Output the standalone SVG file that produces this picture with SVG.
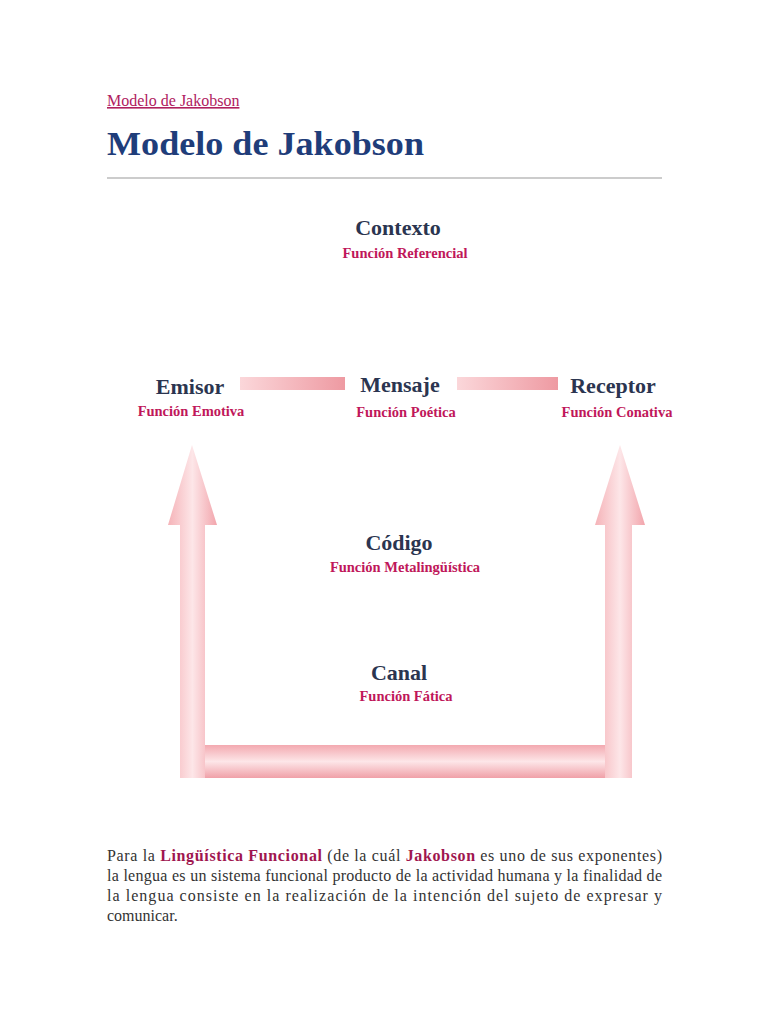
<svg xmlns="http://www.w3.org/2000/svg" width="768" height="1024" viewBox="0 0 768 1024">
<style>
.t{font-family:"Liberation Serif",serif;font-weight:bold;fill:#2b3550;font-size:22px;text-anchor:middle}
.f{font-family:"Liberation Serif",serif;font-weight:bold;fill:#c0175a;font-size:14.5px;text-anchor:middle}
.p{font-family:"Liberation Serif",serif;font-size:16px;fill:#333}
.b{font-weight:bold;fill:#a0164f}
</style>
<defs>
<linearGradient id="gv" x1="0" y1="0" x2="1" y2="0">
<stop offset="0" stop-color="#f5b3b8"/><stop offset="0.5" stop-color="#fde6e8"/><stop offset="1" stop-color="#f2a5ac"/>
</linearGradient>
<linearGradient id="gh" x1="0" y1="0" x2="0" y2="1">
<stop offset="0" stop-color="#f3a9b0"/><stop offset="0.5" stop-color="#fde6e8"/><stop offset="1" stop-color="#f0a0a8"/>
</linearGradient>
<linearGradient id="gs" x1="0" y1="0" x2="1" y2="0">
<stop offset="0" stop-color="#fbd7da"/><stop offset="1" stop-color="#ee9aa2"/>
</linearGradient>
</defs>
<rect width="768" height="1024" fill="#fff"/>
<text x="107" y="106" font-family="Liberation Serif,serif" font-size="16" fill="#b0205e" text-decoration="underline">Modelo de Jakobson</text>
<text x="107" y="155" font-family="Liberation Serif,serif" font-size="34" font-weight="bold" fill="#1f3d7a" textLength="317" lengthAdjust="spacingAndGlyphs">Modelo de Jakobson</text>
<line x1="107" y1="178" x2="662" y2="178" stroke="#bbb" stroke-width="1.5"/>
<g id="connectors">
<rect x="240" y="377" width="105" height="13" fill="url(#gs)"/>
<rect x="457" y="377" width="101" height="13" fill="url(#gs)"/>
<polygon points="180,525 168,525 192,445 217,525 205,525 205,778 180,778" fill="url(#gv)"/>
<polygon points="605,525 595,525 620,445 645,525 632,525 632,778 605,778" fill="url(#gv)"/>
<rect x="205" y="745" width="400" height="33" fill="url(#gh)"/>
</g>
<g id="contexto"><text class="t" x="398" y="235">Contexto</text><text class="f" x="405" y="258">Función Referencial</text></g>
<g id="emisor"><text class="t" x="190" y="394">Emisor</text><text class="f" x="191" y="416">Función Emotiva</text></g>
<g id="mensaje"><text class="t" x="400" y="392">Mensaje</text><text class="f" x="406" y="417">Función Poética</text></g>
<g id="receptor"><text class="t" x="613" y="393">Receptor</text><text class="f" x="617" y="417">Función Conativa</text></g>
<g id="codigo"><text class="t" x="399" y="550">Código</text><text class="f" x="405" y="572">Función Metalingüística</text></g>
<g id="canal"><text class="t" x="399" y="680">Canal</text><text class="f" x="406" y="701">Función Fática</text></g>
<text class="p" x="107" y="861" textLength="555" lengthAdjust="spacing">Para la <tspan class="b">Lingüística Funcional</tspan> (de la cuál <tspan class="b">Jakobson</tspan> es uno de sus exponentes)</text>
<text class="p" x="107" y="881" textLength="555" lengthAdjust="spacing">la lengua es un sistema funcional producto de la actividad humana y la finalidad de</text>
<text class="p" x="107" y="901" textLength="555" lengthAdjust="spacing">la lengua consiste en la realización de la intención del sujeto de expresar y</text>
<text class="p" x="107" y="921">comunicar.</text>
</svg>
